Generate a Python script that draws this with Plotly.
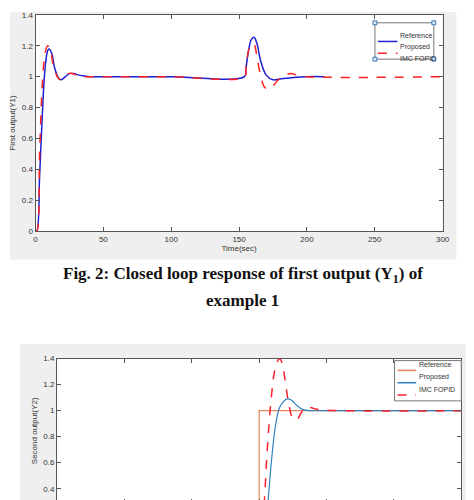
import plotly.graph_objects as go

# top plot: first output
t1_prop = [0, 1, 3, 5, 7, 9, 10, 12, 14, 17, 19, 22, 25, 28, 32, 36, 40, 60, 100, 154, 155, 157, 159, 161, 163, 166, 170, 175, 180, 190, 200, 213]
y1_prop = [0, 0, 0.35, 0.75, 1.05, 1.17, 1.18, 1.15, 1.06, 0.99, 0.98, 1.0, 1.02, 1.02, 1.01, 1.005, 1.0, 1.0, 1.0, 1.0, 1.05, 1.17, 1.24, 1.255, 1.22, 1.1, 1.01, 0.98, 0.985, 0.995, 1.0, 1.0]
t1_imc = [0, 1, 3, 5, 7, 9, 11, 13, 16, 18, 21, 24, 27, 30, 34, 40, 60, 100, 154, 155, 157, 159, 161, 163, 166, 169, 172, 175, 179, 184, 188, 193, 200, 300]
y1_imc = [0, 0, 0.5, 0.95, 1.15, 1.2, 1.17, 1.08, 1.0, 0.98, 0.995, 1.02, 1.02, 1.01, 1.0, 1.0, 1.0, 1.0, 1.0, 1.06, 1.17, 1.21, 1.21, 1.14, 1.0, 0.93, 0.92, 0.94, 0.98, 1.01, 1.02, 1.01, 1.0, 1.0]

# bottom plot: second output
t2_ref = [0, 150, 150, 300]
y2_ref = [0, 0, 1, 1]
t2_prop = [150, 153, 156, 159, 162, 165, 168, 171, 174, 178, 182, 188, 195, 300]
y2_prop = [0, 0.05, 0.25, 0.6, 0.88, 1.02, 1.07, 1.09, 1.08, 1.04, 1.01, 1.0, 1.0, 1.0]
t2_imc = [150, 153, 156, 159, 162, 165, 167, 169, 172, 175, 178, 181, 184, 188, 193, 300]
y2_imc = [0, 0.2, 0.7, 1.1, 1.33, 1.4, 1.37, 1.25, 1.05, 0.94, 0.93, 0.98, 1.02, 1.025, 1.01, 1.0]

W, H = 474, 500
def px(x): return x / W
def py(y): return 1 - y / H

fig = go.Figure()
fig.add_trace(go.Scatter(x=t1_prop, y=y1_prop, mode="lines", line_shape="spline",
                         line=dict(color="#1f1fd0", width=1.5), xaxis="x", yaxis="y"))
fig.add_trace(go.Scatter(x=t1_imc, y=y1_imc, mode="lines", line_shape="spline",
                         line=dict(color="#ff2020", width=1.5, dash="dash"), xaxis="x", yaxis="y"))
fig.add_trace(go.Scatter(x=t2_ref, y=y2_ref, mode="lines",
                         line=dict(color="#e8835a", width=1.2), xaxis="x2", yaxis="y2"))
fig.add_trace(go.Scatter(x=t2_prop, y=y2_prop, mode="lines", line_shape="spline",
                         line=dict(color="#2f7fc0", width=1.2), xaxis="x2", yaxis="y2"))
fig.add_trace(go.Scatter(x=t2_imc, y=y2_imc, mode="lines", line_shape="spline",
                         line=dict(color="#ff2030", width=1.5, dash="dash"), xaxis="x2", yaxis="y2"))

tf = dict(family="Arial", size=8, color="#333")
ax = dict(showgrid=False, zeroline=False, showline=True, mirror="ticks", linecolor="#555",
          ticks="inside", ticklen=4, tickcolor="#555", tickfont=tf)
fig.update_layout(
    width=W, height=H, margin=dict(l=0, r=0, t=0, b=0),
    paper_bgcolor="white", plot_bgcolor="white", showlegend=False,
    xaxis=dict(ax, domain=[px(26), px(441)], range=[0, 300], dtick=50, anchor="y",
               title=dict(text="Time(sec)", font=tf, standoff=2)),
    yaxis=dict(ax, domain=[py(223), py(3)], range=[0, 1.4], dtick=0.2, anchor="x",
               title=dict(text="First output(Y1)", font=tf, standoff=4)),
    xaxis2=dict(ax, domain=[px(48), px(460)], range=[0, 300], dtick=50, anchor="y2", showticklabels=False),
    yaxis2=dict(ax, domain=[0, py(353)], range=[0.29, 1.4], dtick=0.2, anchor="x2",
                title=dict(text="Second output(Y2)", font=tf, standoff=4)),
    shapes=[
        dict(type="rect", xref="paper", yref="paper", x0=0, x1=px(455), y0=py(252), y1=1,
             fillcolor="#efefef", line_width=0, layer="below"),
        dict(type="rect", xref="paper", yref="paper", x0=px(10), x1=1, y0=0, y1=py(338),
             fillcolor="#efefef", line_width=0, layer="below"),
        dict(type="rect", xref="paper", yref="paper", x0=px(26), x1=px(441), y0=py(223), y1=py(3),
             fillcolor="white", line_width=0, layer="below"),
        dict(type="rect", xref="paper", yref="paper", x0=px(48), x1=px(460), y0=0, y1=py(353),
             fillcolor="white", line_width=0, layer="below"),
    ],
    annotations=[
        dict(text="<b>Fig. 2: Closed loop response of first output (Y<sub>1</sub>) of</b>", x=0.5, y=py(268),
             xref="paper", yref="paper", showarrow=False, font=dict(family="Liberation Serif", size=17, color="#111")),
        dict(text="<b>example 1</b>", x=0.5, y=py(294), xref="paper", yref="paper", showarrow=False,
             font=dict(family="Liberation Serif", size=17, color="#111")),
    ],
)

def legend(x0, x1, y0, y1, items, lx0, lx1, tx, ys):
    fig.add_shape(type="rect", xref="paper", yref="paper", x0=px(x0), x1=px(x1), y0=py(y1), y1=py(y0),
                  fillcolor="white", line=dict(color="#777", width=1))
    for (name, col, dash), yv in zip(items, ys):
        yy = py(yv)
        if col:
            fig.add_shape(type="line", xref="paper", yref="paper", x0=px(lx0), x1=px(lx1), y0=yy, y1=yy,
                          line=dict(color=col, width=1.5, dash=dash))
        fig.add_annotation(text=name, x=px(tx), y=yy, xref="paper", yref="paper", xanchor="left",
                           showarrow=False, font=dict(family="Arial", size=7, color="#333"))

legend(372, 432, 11, 48, [("Reference", None, "solid"), ("Proposed", "#1f1fd0", "solid"),
                          ("IMC FOPID", "#ff2020", "dash")], 375, 395, 395, [18, 30, 42])
legend(392, 460, 355, 396, [("Reference", "#e8835a", "solid"), ("Proposed", "#2f7fc0", "solid"),
                            ("IMC FOPID", "#ff2030", "dash")], 395, 414, 415, [365, 377.5, 390])
# legend selection handles on top plot legend
for hx, hy in [(372, 11), (432, 11), (372, 48), (432, 48)]:
    fig.add_shape(type="rect", xref="paper", yref="paper", x0=px(hx - 2), x1=px(hx + 2),
                  y0=py(hy + 2), y1=py(hy - 2), fillcolor="#dde8f5", line=dict(color="#3a78b8", width=1))
fig.write_html("out.html")
